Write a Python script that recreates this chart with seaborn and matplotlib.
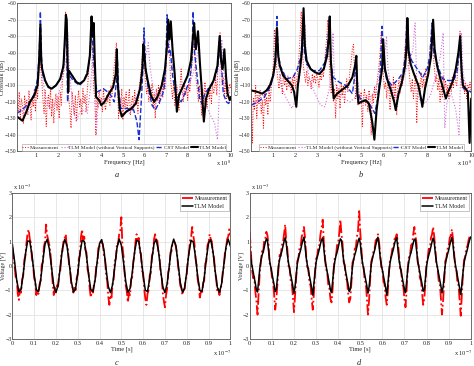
import numpy as np
import pandas as pd
import matplotlib
matplotlib.use("Agg")
import matplotlib.pyplot as plt
import seaborn as sns

# ---------------- panel a : crosstalk, frequency in units of 1e8 Hz ----------------
meas_a_db = [
    -120, -126, -114, -130, -118, -122, -133, -116, -124, -119, -128, -113, -121, -131, -117, -123, -112, -126,
    -110, -118, -104, -92, -100, -108, -119, -127, -113, -135, -120, -116, -124, -112, -129, -118, -133, -121, -115, -125,
    -117, -130, -114, -122, -108, -100, -86, -65, -90, -108, -119, -125, -136, -114, -121, -128, -116, -132, -120, -113,
    -123, -118, -128, -112, -121, -116, -126, -114, -104, -94, -84, -76, -96, -112, -118, -140, -117, -124, -113, -120,
    -118, -126, -112, -121, -125, -116, -120, -113, -122, -110, -115, -106, -98, -92, -84, -108, -130, -118, -124, -112,
    -131, -117, -123, -114, -126, -119, -112, -128, -121, -116, -125, -113, -122, -118, -127, -112, -107, -100, -92, -82,
    -96, -108, -115, -111, -120, -113, -118, -109, -123, -115, -130, -112, -119, -110, -121, -114, -108, -117, -106, -112,
    -98, -85, -72, -88, -104, -112, -118, -109, -122, -114, -111, -119, -125, -110, -100, -113, -120, -108, -116, -111,
    -119, -109, -114, -104, -96, -88, -82, -95, -108, -113, -120, -110, -118, -128, -112, -121, -108, -117, -123, -112,
    -118, -110, -121, -109, -115, -112, -106, -116, -100, -90, -78, -96, -110, -105, -115, -108, -118, -110, -113, -109,
    -112]

tlm_a_f = [0.1, 0.35, 0.5, 0.7, 0.9, 1.05, 1.12, 1.18, 1.22, 1.26, 1.4, 1.55, 1.7, 1.9, 2.1, 2.25, 2.32, 2.36, 2.4,
           2.43, 2.47, 2.5, 2.65, 2.85, 3.0, 3.2, 3.35, 3.47, 3.55, 3.6, 3.65, 3.7, 3.76, 3.9, 4.0, 4.15, 4.35, 4.55,
           4.67, 4.72, 4.76, 4.85, 4.95, 5.15, 5.4, 5.6, 5.8, 5.9, 5.95, 6.0, 6.05, 6.15, 6.3, 6.45, 6.6, 6.8, 6.95,
           7.03, 7.1, 7.16, 7.22, 7.3, 7.4, 7.5, 7.6, 7.8, 8.0, 8.15, 8.25, 8.3, 8.38, 8.48, 8.56, 8.65, 8.75, 8.85,
           9.0, 9.2, 9.38, 9.48, 9.55, 9.62, 9.7, 9.78, 9.85, 9.95, 10.0]
tlm_a_db = [-129, -131.5, -127, -120, -116, -110, -95, -73, -95, -100, -107, -111, -112, -110, -106, -98, -80, -67, -70,
            -88, -114, -101, -104, -108, -109, -107, -103, -92, -68, -80, -72, -95, -117, -119, -122, -120, -115, -111,
            -103, -88, -108, -124, -129, -126, -124, -121, -112, -100, -85, -92, -100, -107, -116, -120, -117, -110, -100,
            -88, -70, -82, -71, -88, -103, -126, -116, -110, -104, -95, -80, -72, -88, -77, -95, -112, -132, -118,
            -112, -107, -98, -80, -95, -100, -88, -105, -115, -119, -117]

cst_a_f = [0.1, 0.4, 0.7, 0.9, 1.05, 1.13, 1.18, 1.23, 1.3, 1.5, 1.7, 1.9, 2.1, 2.25, 2.33, 2.37, 2.41, 2.44, 2.48, 2.7,
           3.0, 3.2, 3.4, 3.5, 3.55, 3.6, 3.7, 3.8, 4.1, 4.4, 4.6, 4.7, 4.75, 4.8, 4.9, 5.2, 5.5, 5.65, 5.75, 5.85,
           5.93, 5.98, 6.05, 6.15, 6.35, 6.5, 6.7, 6.9, 6.98, 7.05, 7.12, 7.2, 7.3, 7.45, 7.7, 7.9, 8.1, 8.2, 8.25,
           8.32, 8.42, 8.55, 8.65, 8.8, 9.0, 9.2, 9.35, 9.45, 9.5, 9.58, 9.65, 9.8, 9.9, 10.0]
cst_a_db = [-127, -124, -120, -115, -106, -90, -65, -92, -104, -110, -112, -110, -106, -97, -80, -72, -95, -120, -103, -107,
            -110, -107, -100, -88, -70, -85, -105, -114, -112, -115, -120, -108, -95, -112, -124, -124, -125, -132, -143, -120,
            -100, -75, -98, -110, -122, -125, -120, -113, -100, -67, -90, -88, -104, -116, -120, -114, -106, -95, -65,
            -90, -102, -118, -121, -115, -111, -108, -102, -92, -80, -100, -115, -120, -121, -118]

nosup_a_f = [0.1, 0.4, 0.7, 0.95, 1.1, 1.17, 1.2, 1.25, 1.4, 1.6, 1.85, 2.1, 2.3, 2.4, 2.45, 2.5, 2.6, 2.75, 2.85, 3.0,
             3.2, 3.35, 3.5, 3.6, 3.65, 3.7, 3.77, 3.85, 4.1, 4.4, 4.65, 4.8, 4.9, 5.1, 5.3, 5.5, 5.75, 5.9, 6.0, 6.1,
             6.18, 6.25, 6.4, 6.6, 6.8, 6.95, 7.05, 7.1, 7.15, 7.3, 7.45, 7.6, 7.8, 8.05, 8.25, 8.4, 8.54, 8.6, 8.7,
             8.85, 9.05, 9.25, 9.38, 9.45, 9.52, 9.58, 9.65, 9.75, 9.9, 10.0]
nosup_a_db = [-128, -125, -121, -115, -106, -96, -92, -103, -116, -124, -122, -112, -100, -88, -78, -95, -112, -128, -132, -126,
              -125, -127, -112, -90, -82, -100, -140, -120, -118, -117, -116, -115, -120, -124, -127, -122, -112, -100, -96, -90,
              -84, -98, -112, -120, -113, -103, -90, -80, -86, -98, -108, -116, -115, -110, -103, -95, -84, -102, -115,
              -122, -128, -133, -143, -120, -95, -82, -100, -110, -114, -115]

# ---------------- panel b ----------------
meas_b_db = [
    -112, -145, -118, -125, -110, -130, -116, -121, -113, -127, -119, -136, -114, -122, -117, -128, -110, -120,
    -112, -104, -96, -76, -92, -100, -106, -112, -103, -108, -115, -102, -110, -106, -113, -104, -111, -107, -115, -105,
    -110, -103, -112, -106, -100, -92, -80, -65, -88, -98, -104, -108, -101, -110, -105, -107, -112, -103, -108, -104,
    -109, -102, -106, -111, -103, -107, -100, -105, -96, -88, -80, -70, -92, -106, -115, -108, -120, -112, -130, -110,
    -118, -112, -124, -109, -116, -110, -121, -112, -106, -114, -108, -100, -96, -88, -85, -100, -118, -112, -122, -115,
    -119, -114, -135, -117, -112, -122, -116, -126, -113, -118, -140, -115, -121, -111, -118, -110, -104, -98, -90, -78,
    -95, -104, -112, -108, -118, -106, -113, -125, -110, -116, -105, -119, -108, -128, -112, -107, -115, -104, -110, -100,
    -92, -82, -72, -90, -100, -108, -114, -106, -118, -110, -104, -133, -112, -108, -115, -102, -111, -106, -113, -100,
    -108, -102, -96, -88, -80, -72, -92, -100, -108, -104, -113, -106, -120, -110, -117, -104, -112, -107, -115, -110,
    -118, -108, -114, -105, -112, -102, -108, -110, -100, -90, -77, -98, -112, -106, -115, -108, -118, -110, -112, -108,
    -115]

tlm_b_f = [0.0, 0.3, 0.5, 0.7, 0.85, 1.0, 1.1, 1.17, 1.23, 1.3, 1.45, 1.65, 1.85, 1.95, 2.05, 2.12, 2.22, 2.3, 2.38,
           2.44, 2.52, 2.7, 2.9, 3.1, 3.3, 3.45, 3.52, 3.57, 3.62, 3.7, 3.75, 3.9, 4.1, 4.4, 4.6, 4.72, 4.78, 4.83,
           4.88, 5.0, 5.2, 5.35, 5.5, 5.6, 5.7, 5.82, 5.95, 6.0, 6.08, 6.2, 6.35, 6.5, 6.57, 6.7, 6.85, 7.0, 7.07,
           7.1, 7.16, 7.25, 7.4, 7.6, 7.72, 7.78, 7.9, 8.05, 8.18, 8.27, 8.34, 8.45, 8.6, 8.75, 8.85, 8.95, 9.15, 9.3,
           9.42, 9.5, 9.56, 9.62, 9.75, 9.85, 9.93, 10.0]
tlm_b_db = [-113, -114, -115, -113, -110, -104, -95, -75, -92, -98, -104, -107, -110, -114, -123, -110, -100, -90, -63,
            -86, -95, -100, -102, -103, -100, -92, -82, -68, -95, -110, -118, -115, -113, -110, -105, -98, -92, -115,
            -121, -120, -119, -121, -132, -143, -125, -112, -100, -82, -100, -107, -113, -120, -125, -115, -108, -98, -85,
            -69, -90, -97, -103, -110, -118, -123, -112, -103, -92, -70, -88, -98, -106, -113, -118, -114, -108, -100,
            -90, -80, -100, -110, -112, -114, -145, -118]

cst_b_f = [0.0, 0.3, 0.6, 0.9, 1.05, 1.12, 1.17, 1.22, 1.32, 1.6, 1.9, 2.1, 2.25, 2.33, 2.37, 2.42, 2.52, 2.8, 3.1, 3.35,
           3.48, 3.55, 3.62, 3.72, 4.0, 4.3, 4.6, 4.72, 4.77, 4.83, 4.95, 5.3, 5.5, 5.62, 5.75, 5.85, 5.95, 6.03, 6.15,
           6.4, 6.7, 6.9, 7.0, 7.08, 7.15, 7.3, 7.55, 7.8, 8.0, 8.12, 8.22, 8.3, 8.45, 8.7, 8.95, 9.2, 9.35, 9.45, 9.5,
           9.57, 9.65, 9.85, 10.0]
cst_b_db = [-122, -120, -117, -110, -100, -85, -68, -90, -98, -106, -105, -100, -93, -80, -70, -90, -97, -101, -101, -96,
            -85, -70, -95, -105, -108, -110, -115, -103, -97, -114, -118, -120, -124, -127, -118, -105, -74, -98, -106,
            -110, -106, -102, -93, -69, -88, -95, -100, -105, -100, -92, -72, -90, -97, -106, -107, -107, -102, -92, -80,
            -100, -112, -113, -114]

nosup_b_f = [0.0, 0.4, 0.8, 1.0, 1.12, 1.17, 1.22, 1.35, 1.6, 1.85, 2.0, 2.2, 2.35, 2.45, 2.5, 2.65, 2.9, 3.15, 3.35,
             3.55, 3.65, 3.72, 3.78, 3.9, 4.2, 4.5, 4.75, 4.85, 4.95, 5.2, 5.5, 5.75, 5.95, 6.1, 6.15, 6.22, 6.35, 6.6,
             6.85, 7.05, 7.2, 7.35, 7.45, 7.52, 7.6, 7.9, 8.15, 8.4, 8.6, 8.73, 8.8, 8.9, 9.1, 9.3, 9.45, 9.5, 9.56,
             9.62, 9.75, 9.9, 10.0]
nosup_b_db = [-122, -118, -112, -106, -95, -75, -96, -110, -118, -124, -120, -105, -88, -73, -95, -106, -115, -122, -123,
              -112, -96, -78, -105, -112, -118, -120, -117, -108, -118, -120, -116, -108, -98, -88, -80, -100, -112, -117,
              -110, -100, -96, -88, -72, -105, -118, -121, -116, -104, -92, -78, -136, -120, -115, -125, -140, -115, -78,
              -100, -112, -113, -112]

# ---------------- panel c : voltage (1e-3 V) vs time (1e-7 s) ----------------
meas_c_v = [
    0.75, 0.35, 0.05, -0.45, -0.50, -1.15, -1.40, -0.95, -1.10, -0.55, -0.40, 0.25, 0.40, 0.95, 1.35, 1.50, 1.10, 0.95, 0.30, 0.10,
    -0.50, -0.65, -1.20, -1.00, -1.15, -0.75, -0.60, 0.05, 0.15, 0.80, 1.00, 1.70, 1.25, 1.05, 0.85, 0.50, -0.10, -0.70, -1.20, -0.90,
    -1.05, -0.80, -0.85, -0.30, -0.20, 0.55, 0.60, 1.05, 1.15, 1.30, 0.75, 0.70, 0.05, -0.10, -0.75, -0.85, -1.10, -0.90, -1.00, -0.50,
    -0.35, 0.30, 0.45, 1.20, 1.50, 1.05, 1.20, 0.65, 0.55, -0.15, -0.30, -0.95, -1.30, -1.00, -1.10, -0.70, -0.60, 0.05, 0.10, 0.85,
    0.80, 1.00, 0.95, 0.90, 0.45, 0.35, -0.40, -0.60, -1.25, -1.60, -1.20, -1.30, -0.70, -0.55, 0.20, 0.30, 0.95, 0.90, 1.30, 1.45,
    2.00, 0.80, 0.40, -0.30, -0.80, -1.05, -1.50, -1.10, -1.20, -0.55, -0.45, 0.20, 0.40, 1.00, 1.30, 1.05, 1.15, 0.60, 0.50, -0.20,
    -0.30, -0.95, -1.35, -1.60, -1.15, -1.00, -0.40, -0.30, 0.40, 0.55, 1.10, 1.30, 1.00, 1.05, 0.55, 0.40, -0.30, -0.45, -1.10, -1.45,
    -1.70, -1.20, -0.95, -0.25, -0.10, 0.55, 0.60, 0.95, 1.00, 0.95, 0.80, 0.55, 0.00, -0.35, -0.80, -0.90, -1.20, -1.00, -0.95, -0.55,
    -0.35, 0.25, 0.50, 1.05, 1.20, 1.60, 1.25, 0.95, 0.30, 0.05, -0.55, -0.80, -1.30, -1.05, -1.15, -0.70, -0.60, 0.10, 0.20, 0.85,
    0.95, 1.30, 1.10, 1.00, 0.50, 0.35, -0.30, -0.50, -1.05, -0.95, -1.20, -0.90, -0.80, -0.25, -0.05, 0.55, 0.70, 1.10, 1.20, 1.50,
    1.25]
tlm_c_v = [
    0.90, 0.21, -0.58, -1.06, -0.97, -0.34, 0.47, 1.02, 1.02, 0.46, -0.34, -0.97, -1.06, -0.58, 0.22, 0.90, 1.09, 0.69, -0.08, -0.81,
    -1.10, -0.79, -0.05, 0.72, 1.09, 0.87, 0.18, -0.61, -1.07, -0.95, -0.31, 0.50, 1.04, 1.01, 0.43, -0.38, -0.98, -1.05, -0.55, 0.25,
    0.92, 1.08, 0.66, -0.12, -0.84, -1.10, -0.77, -0.02, 0.74, 1.10, 0.85, 0.15, -0.64, -1.08, -0.93, -0.28, 0.53, 1.05, 1.00, 0.40,
    -0.40, -1.00, -1.05, -0.53, 0.28, 0.93, 1.08, 0.64, -0.15, -0.85, -1.10, -0.74, 0.02, 0.77, 1.10, 0.84, 0.12, -0.66, -1.08, -0.92,
    -0.25, 0.55, 1.05, 0.98, 0.38, -0.43, -1.01, -1.04, -0.50, 0.31, 0.95, 1.07, 0.61, -0.18, -0.87, -1.09, -0.72, 0.05, 0.79, 1.10,
    0.81]

# ---------------- panel d ----------------
meas_d_v = [
    1.40, 0.55, -0.15, -0.50, -0.45, -1.05, -1.45, -2.00, -1.10, -0.30, 0.15, 0.60, 0.50, 1.05, 1.10, 1.40, 1.25, 0.85, 0.10, 0.05,
    -0.45, -0.60, -1.15, -1.80, -1.40, -0.75, -0.10, 0.45, 0.40, 0.85, 0.95, 1.30, 1.70, 1.05, 0.70, 0.00, -0.05, -0.60, -0.70, -1.25,
    -1.90, -1.20, -0.55, 0.20, 0.30, 0.75, 0.80, 1.20, 1.35, 1.60, 1.15, 0.45, -0.05, -0.10, -0.70, -0.80, -1.35, -1.80, -1.15, -0.25,
    0.30, 0.35, 0.80, 0.85, 1.30, 1.55, 1.90, 1.00, 0.45, -0.15, -0.20, -0.75, -0.90, -1.35, -1.50, -0.95, -0.10, 0.35, 0.40, 0.85,
    0.95, 1.35, 1.90, 1.30, 0.90, 0.15, 0.05, -0.50, -0.60, -1.10, -1.50, -1.35, -0.70, 0.15, 0.25, 0.70, 0.75, 1.20, 1.45, 2.25,
    1.40, 0.75, 0.05, -0.05, -0.60, -0.70, -1.30, -2.00, -1.40, -0.55, 0.20, 0.30, 0.65, 0.70, 1.05, 1.10, 1.30, 1.00, 0.55, -0.05,
    -0.10, -0.65, -0.75, -1.30, -1.60, -1.05, -0.25, 0.30, 0.35, 0.70, 0.75, 1.10, 1.15, 1.30, 1.00, 0.50, -0.10, -0.15, -0.75, -0.85,
    -1.35, -1.70, -1.00, -0.10, 0.35, 0.40, 0.85, 0.90, 1.30, 1.60, 1.25, 0.90, 0.15, 0.00, -0.50, -0.60, -1.10, -1.60, -1.35, -0.70,
    0.10, 0.30, 0.70, 0.70, 1.15, 1.30, 1.60, 1.20, 0.70, 0.05, -0.05, -0.60, -0.70, -1.30, -2.00, -1.45, -0.60, 0.20, 0.30, 0.70,
    0.75, 1.15, 1.25, 1.50, 1.10, 0.55, -0.05, -0.10, -0.70, -0.80, -1.40, -2.05, -1.20, -0.30, 0.25, 0.35, 0.75, 0.80, 1.05, 1.20,
    1.30]
tlm_d_v = [
    0.90, 0.26, 0.00, -0.24, -0.48, -0.72, -0.99, -1.07, -0.62, -0.12, 0.20, 0.42, 0.56, 0.76, 0.96, 1.11, 1.04, 0.60, 0.20, -0.06,
    -0.30, -0.54, -0.78, -1.06, -0.96, -0.51, 0.00, 0.27, 0.45, 0.60, 0.81, 1.00, 1.15, 0.94, 0.48, 0.13, -0.12, -0.36, -0.60, -0.84,
    -1.13, -0.85, -0.38, 0.07, 0.33, 0.49, 0.65, 0.86, 1.04, 1.18, 0.85, 0.36, 0.07, -0.18, -0.42, -0.65, -0.91, -1.20, -0.75, -0.26,
    0.13, 0.37, 0.52, 0.70, 0.91, 1.07, 1.15, 0.74, 0.27, 0.01, -0.23, -0.47, -0.71, -0.98, -1.09, -0.64, -0.14, 0.19, 0.41, 0.56,
    0.75, 0.96, 1.11, 1.05, 0.62, 0.21, -0.05, -0.29, -0.53, -0.77, -1.05, -0.97, -0.52, -0.01, 0.26, 0.45, 0.60, 0.80, 0.99, 1.14,
    0.95, 0.50, 0.14, -0.11, -0.35, -0.59, -0.83, -1.12, -0.87, -0.39, 0.06, 0.32, 0.48, 0.64, 0.85, 1.03, 1.18, 0.86, 0.37, 0.08,
    -0.17, -0.41, -0.65, -0.90, -1.20, -0.76, -0.27, 0.12, 0.37, 0.52, 0.69, 0.90, 1.07, 1.16, 0.76, 0.28, 0.02, -0.23, -0.47, -0.71,
    -0.97, -1.10, -0.65, -0.15, 0.18, 0.41, 0.55, 0.74, 0.95, 1.10, 1.07, 0.63, 0.22, -0.05, -0.29, -0.52, -0.76, -1.04, -0.99, -0.54,
    -0.03, 0.25, 0.44, 0.59, 0.79, 0.99, 1.14, 0.97, 0.52, 0.15, -0.10, -0.34, -0.58, -0.82, -1.11, -0.88, -0.42, 0.05, 0.31, 0.48,
    0.64, 0.85, 1.02, 1.17, 0.87, 0.40, 0.09, -0.16, -0.40, -0.64, -0.89, -1.18, -0.78, -0.29, 0.11, 0.36, 0.51, 0.68, 0.89, 1.06,
    1.19]

freq_labels = ["Measurement", "TLM Model (without Vertical Supports)", "CST Model", "TLM Model"]
time_labels = ["Measurement", "TLM Model"]

sns.set_theme(style="whitegrid")
plt.rcParams["font.family"] = ["Liberation Serif", "DejaVu Serif"]
plt.rcParams["mathtext.fontset"] = "stix"
plt.rcParams["axes.edgecolor"] = "#555555"
plt.rcParams["axes.linewidth"] = 0.6
plt.rcParams["grid.color"] = "#dddddd"
plt.rcParams["grid.linewidth"] = 0.5

W, H = 474, 366
fig = plt.figure(figsize=(W / 100, H / 100), dpi=100)
ax_a = fig.add_axes([0.036, 0.587, 0.451, 0.404])
ax_b = fig.add_axes([0.530, 0.587, 0.464, 0.404])
ax_c = fig.add_axes([0.026, 0.074, 0.460, 0.399])
ax_d = fig.add_axes([0.527, 0.074, 0.466, 0.399])

fs = 4.6
ylab_fs = 4.2


def style_legend(leg):
    leg.get_frame().set_edgecolor("#999999")
    leg.get_frame().set_linewidth(0.5)


def put_ylabel(ax, text, x_px):
    # right edge of the rotated y label sits at pixel column x_px
    ax.set_ylabel(text, fontsize=ylab_fs)
    pos = ax.get_position()
    ax.yaxis.set_label_coords((x_px / W - pos.x0) / pos.width, 0.5)


def freq_panel(ax, meas, f_start, nosup_f, nosup_db, cst_f, cst_db, tlm_f, tlm_db, ylab_px):
    f_meas = np.linspace(f_start, 10, len(meas))
    df = pd.DataFrame({"f": f_meas, "db": meas})
    sns.lineplot(data=df, x="f", y="db", ax=ax, color="red", lw=0.7, linestyle=":",
                 label=freq_labels[0], sort=False, estimator=None)
    sns.lineplot(x=nosup_f, y=nosup_db, ax=ax, color="#d070d8", lw=0.8, linestyle=":",
                 label=freq_labels[1], sort=False, estimator=None)
    sns.lineplot(x=cst_f, y=cst_db, ax=ax, color="#1a2fd0", lw=1.0, linestyle="--",
                 label=freq_labels[2], sort=False, estimator=None)
    sns.lineplot(x=tlm_f, y=tlm_db, ax=ax, color="black", lw=1.5,
                 label=freq_labels[3], sort=False, estimator=None)
    ax.set_xlim(f_start, 10)
    ax.set_ylim(-150, -60)
    ax.set_xticks(range(1, 11))
    ax.set_yticks(range(-150, -59, 10))
    ax.tick_params(axis="x", labelsize=fs, length=0, pad=1.2)
    ax.tick_params(axis="y", labelsize=4.0, length=0, pad=0.5)
    ax.set_xlabel("Frequency [Hz]", fontsize=fs, labelpad=1)
    put_ylabel(ax, "Crosstalk [dB]", ylab_px)
    leg = ax.legend(loc="lower center", ncol=4, fontsize=3.9, handlelength=1.3, handletextpad=0.15,
                    columnspacing=0.25, borderpad=0.15, borderaxespad=0.1, frameon=True, fancybox=False)
    style_legend(leg)


def time_panel(ax, meas, tlm, ylab_px):
    t_meas = np.linspace(0, 1, len(meas))
    t_tlm = np.linspace(0, 1, len(tlm))
    sns.lineplot(x=t_meas, y=meas, ax=ax, color="red", lw=1.3, linestyle="-.",
                 label=time_labels[0], sort=False, estimator=None)
    sns.lineplot(x=t_tlm, y=tlm, ax=ax, color="black", lw=1.1,
                 label=time_labels[1], sort=False, estimator=None)
    ax.set_xlim(0, 1)
    ax.set_ylim(-3, 3)
    ax.set_xticks(np.arange(0, 1.01, 0.1))
    ax.set_xticklabels(["0", "0.1", "0.2", "0.3", "0.4", "0.5", "0.6", "0.7", "0.8", "0.9", "1"])
    ax.set_yticks(range(-3, 4))
    ax.tick_params(axis="x", labelsize=fs, length=0, pad=1.2)
    ax.tick_params(axis="y", labelsize=4.3, length=0, pad=0.5)
    ax.set_xlabel("Time [s]", fontsize=fs, labelpad=1)
    put_ylabel(ax, "Voltage [V]", ylab_px)
    leg = ax.legend(loc="upper right", fontsize=4.3, handlelength=1.8, handletextpad=0.3,
                    borderpad=0.3, borderaxespad=0.2, frameon=True, fancybox=False)
    style_legend(leg)


freq_panel(ax_a, meas_a_db, 0.1, nosup_a_f, nosup_a_db, cst_a_f, cst_a_db, tlm_a_f, tlm_a_db, 5.4)
freq_panel(ax_b, meas_b_db, 0.0, nosup_b_f, nosup_b_db, cst_b_f, cst_b_db, tlm_b_f, tlm_b_db, 239.6)
time_panel(ax_c, meas_c_v, tlm_c_v, 5.6)
time_panel(ax_d, meas_d_v, tlm_d_v, 243.5)

# exponent notes and captions
fig.text(231 / W, 1 - 163 / H, r"x 10$^{8}$", fontsize=fs, ha="right", va="center")
fig.text(472 / W, 1 - 163 / H, r"x 10$^{8}$", fontsize=fs, ha="right", va="center")
fig.text(13 / W, 1 - 187 / H, r"x 10$^{-3}$", fontsize=fs, ha="left", va="center")
fig.text(251 / W, 1 - 187 / H, r"x 10$^{-3}$", fontsize=fs, ha="left", va="center")
fig.text(231 / W, 1 - 353 / H, r"x 10$^{-7}$", fontsize=fs, ha="right", va="center")
fig.text(472 / W, 1 - 353 / H, r"x 10$^{-7}$", fontsize=fs, ha="right", va="center")
for x, y, s in [(117, 175, "a"), (361, 175, "b"), (117, 363, "c"), (359, 363, "d")]:
    fig.text(x / W, 1 - y / H, s, fontsize=6, style="italic", ha="center", va="center")

fig.savefig("out.png", dpi=100)
